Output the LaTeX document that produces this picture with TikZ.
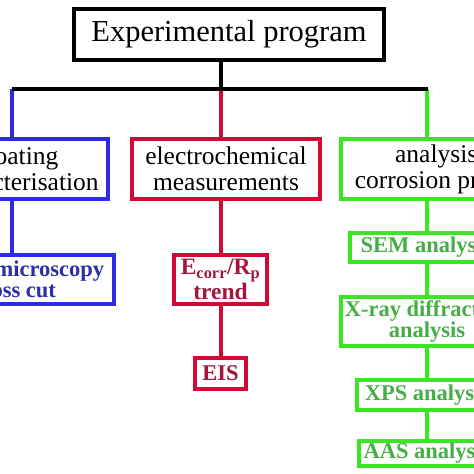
\documentclass[tikz,border=0pt]{standalone}
\usepackage{fontspec}
\setmainfont{Liberation Serif}
\usepackage{xcolor}
\usepackage{tikz}
\usetikzlibrary{positioning}
\definecolor{progBlue}{HTML}{2C2CE4}
\definecolor{progRed}{HTML}{D00A34}
\definecolor{progGreen}{HTML}{38E622}
\definecolor{txtBlue}{HTML}{2E2EA8}
\definecolor{txtRed}{HTML}{A3163C}
\definecolor{txtGreen}{HTML}{46AE46}

\begin{document}
\begin{tikzpicture}[
  x=1pt, y=-1pt,
  topbox/.style={
    rectangle, draw=black, line width=4pt, fill=white,
    minimum width=310pt, minimum height=51pt, inner sep=0pt,
    font=\fontsize{30.5}{33}\selectfont
  },
  catbox/.style={
    rectangle, draw=#1, line width=4pt, fill=white,
    minimum height=60pt, inner sep=0pt, align=center,
    font=\fontsize{25.5}{26.5}\selectfont
  },
  subbox/.style={
    rectangle, draw=prog#1, line width=4pt, fill=white, text=txt#1,
    inner sep=0pt, align=center,
    font=\fontsize{22.5}{21}\selectfont\bfseries
  },
  link/.style={line width=4pt},
]
\useasboundingbox (0,0) rectangle (474,474);
\clip (0,0) rectangle (474,474);

% === Top ===
\node[topbox] (prog) at (229, 34.5) {Experimental program};

% junction points on the horizontal bar
\coordinate (jb) at (12, 89);
\coordinate (jr) at (221, 89);
\coordinate (jg) at (427, 89);

% === Level 1 ===
\node[catbox=progBlue, minimum width=180pt] (coat) at (18, 169) {Coating\\characterisation};
\node[catbox=progRed, minimum width=188pt] (electro) at (226, 169) {electrochemical\\measurements};
\node[catbox=progGreen, minimum width=218pt] (corr) at (450, 169) {analysis of\\corrosion products};

% === Level 2: blue ===
\node[subbox=Blue, minimum width=200pt, minimum height=49pt] (micro) at (14, 279.5) {optical microscopy\\cross cut};

% === Level 2: red ===
\node[subbox=Red, minimum width=93pt, minimum height=49pt, font=\fontsize{23.5}{22}\selectfont\bfseries] (ecorr) at (220.5, 279.5) {E\textsubscript{corr}/R\textsubscript{p}\\trend};
\node[subbox=Red, minimum width=51pt, minimum height=31pt] (eis) at (220.5, 373.5) {EIS};

% === Level 2: green ===
\node[subbox=Green, minimum width=152pt, minimum height=29pt] (sem) at (426, 247.5) {SEM analysis};
\node[subbox=Green, minimum width=172pt, minimum height=49pt] (xrd) at (427, 321.5) {X-ray diffraction\\analysis};
\node[subbox=Green, minimum width=140pt, minimum height=30pt] (xps) at (427, 395) {XPS analysis};
\node[subbox=Green, minimum width=136pt, minimum height=25pt] (aas) at (427, 453.5) {AAS analysis};

% === Connectors ===
% coloured drops first, black bar on top
\draw[link, progBlue] (jb) -- (coat.north -| jb);
\draw[link, progRed] (jr) -- (electro.north -| jr);
\draw[link, progGreen] (jg) -- (corr.north -| jg);
\draw[link, black] (prog.south -| jr) -- (jr);
\draw[link, black] (jb) -- ([xshift=1pt]jg);

\draw[link, progBlue] (coat.south -| jb) -- (micro.north -| jb);
\draw[link, progRed] (electro.south -| jr) -- (ecorr.north -| jr);
\draw[link, progRed] (ecorr) -- (eis);
\draw[link, progGreen] (corr.south -| jg) -- (sem.north -| jg);
\draw[link, progGreen] (sem.south -| jg) -- (xrd.north -| jg);
\draw[link, progGreen] (xrd.south -| jg) -- (xps.north -| jg);
\draw[link, progGreen] (xps.south -| jg) -- (aas.north -| jg);

\end{tikzpicture}
\end{document}
